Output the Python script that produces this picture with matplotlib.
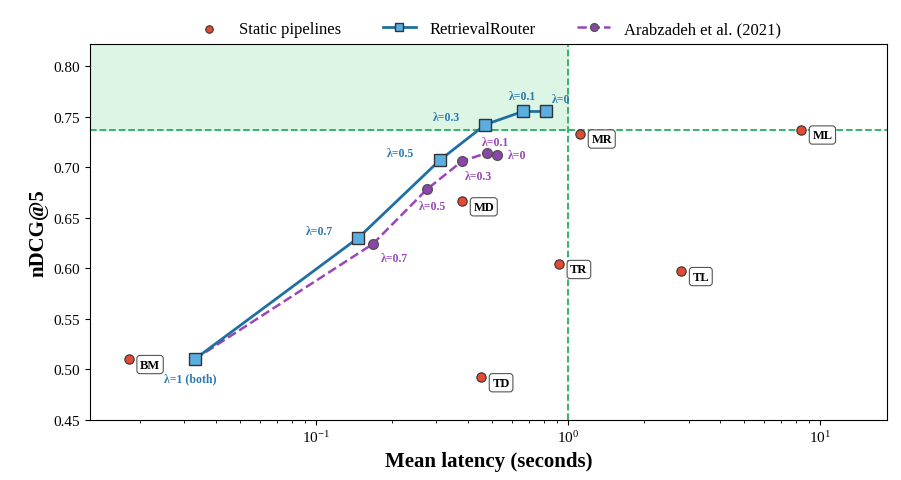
import matplotlib
matplotlib.use("Agg")
import matplotlib.pyplot as plt

plt.rcParams['font.family'] = ['Liberation Serif', 'DejaVu Serif']
plt.rcParams['mathtext.fontset'] = 'stix'

static_names = ["BM", "TD", "MD", "TR", "MR", "TL", "ML"]
static_lat = [0.0181, 0.452, 0.38, 0.92, 1.116, 2.81, 8.4]
static_ndcg = [0.510, 0.492, 0.666, 0.604, 0.733, 0.597, 0.737]

rr_lambda = ["λ=1 (both)", "λ=0.7", "λ=0.5", "λ=0.3", "λ=0.1", "λ=0"]
rr_lat = [0.033, 0.147, 0.31, 0.469, 0.66, 0.818]
rr_ndcg = [0.510, 0.630, 0.707, 0.742, 0.755, 0.755]

ar_lambda = ["", "λ=0.7", "λ=0.5", "λ=0.3", "λ=0.1", "λ=0"]
ar_lat = [0.033, 0.168, 0.275, 0.38, 0.477, 0.52]
ar_ndcg = [0.510, 0.624, 0.678, 0.706, 0.714, 0.712]

thr_lat = 1.0
thr_ndcg = 0.737

fig = plt.figure(figsize=(9.01, 4.81), dpi=100)
ax = fig.add_axes([0.1, 0.125, 0.884, 0.782])
ax.set_xscale('log')
ax.set_xlim(0.0127, 18.3)
ax.set_ylim(0.45, 0.822)

ax.axvspan(0.0127, thr_lat, ymin=(thr_ndcg - 0.45) / (0.822 - 0.45), ymax=1, color='#dcf5e4', zorder=0)
ax.axvline(thr_lat, color='#27ae60', ls='--', lw=1.3, zorder=1)
ax.axhline(thr_ndcg, color='#27ae60', ls='--', lw=1.3, zorder=1)

ax.scatter(static_lat, static_ndcg, s=45, color='#e34a33', edgecolor='#333333', lw=0.8, zorder=4, label='Static pipelines')
ax.plot(rr_lat, rr_ndcg, '-s', color='#1f6fa3', mfc='#5aaee0', mec='#333333', ms=8, lw=2, zorder=4, label='RetrievalRouter')
ax.plot(ar_lat, ar_ndcg, '--o', color='#9b45b8', mfc='#8e44ad', mec='#555555', ms=7, lw=1.8, zorder=3, label='Arabzadeh et al. (2021)')

for n, x, y in zip(static_names, static_lat, static_ndcg):
    ax.annotate(n, (x, y), xytext=(8, -6), textcoords='offset points', fontsize=9, fontweight='bold',
                bbox=dict(boxstyle='round,pad=0.25', fc='white', ec='#555555', lw=0.8), zorder=5)

rr_off = [(-22, -16), (-38, 3), (-38, 3), (-38, 3), (-10, 9), (4, 7)]
for t, x, y, o in zip(rr_lambda, rr_lat, rr_ndcg, rr_off):
    ax.annotate(t, (x, y), xytext=o, textcoords='offset points', fontsize=8.5, fontweight='bold', color='#2a7ab0')
ar_off = [(0, 0), (6, -12), (-6, -14), (2, -13), (-4, 6), (8, -2)]
for t, x, y, o in zip(ar_lambda, ar_lat, ar_ndcg, ar_off):
    if t:
        ax.annotate(t, (x, y), xytext=o, textcoords='offset points', fontsize=8.5, fontweight='bold', color='#9b45b8')

ax.set_yticks([0.45, 0.50, 0.55, 0.60, 0.65, 0.70, 0.75, 0.80])
ax.tick_params(labelsize=11)
ax.set_xlabel('Mean latency (seconds)', fontsize=15, fontweight='bold')
ax.set_ylabel('nDCG@5', fontsize=15, fontweight='bold')
fig.legend(loc='upper center', ncol=3, frameon=False, fontsize=12, bbox_to_anchor=(0.54, 0.985),
           columnspacing=2.5, markerscale=0.8)

fig.savefig('out.png', dpi=100)
